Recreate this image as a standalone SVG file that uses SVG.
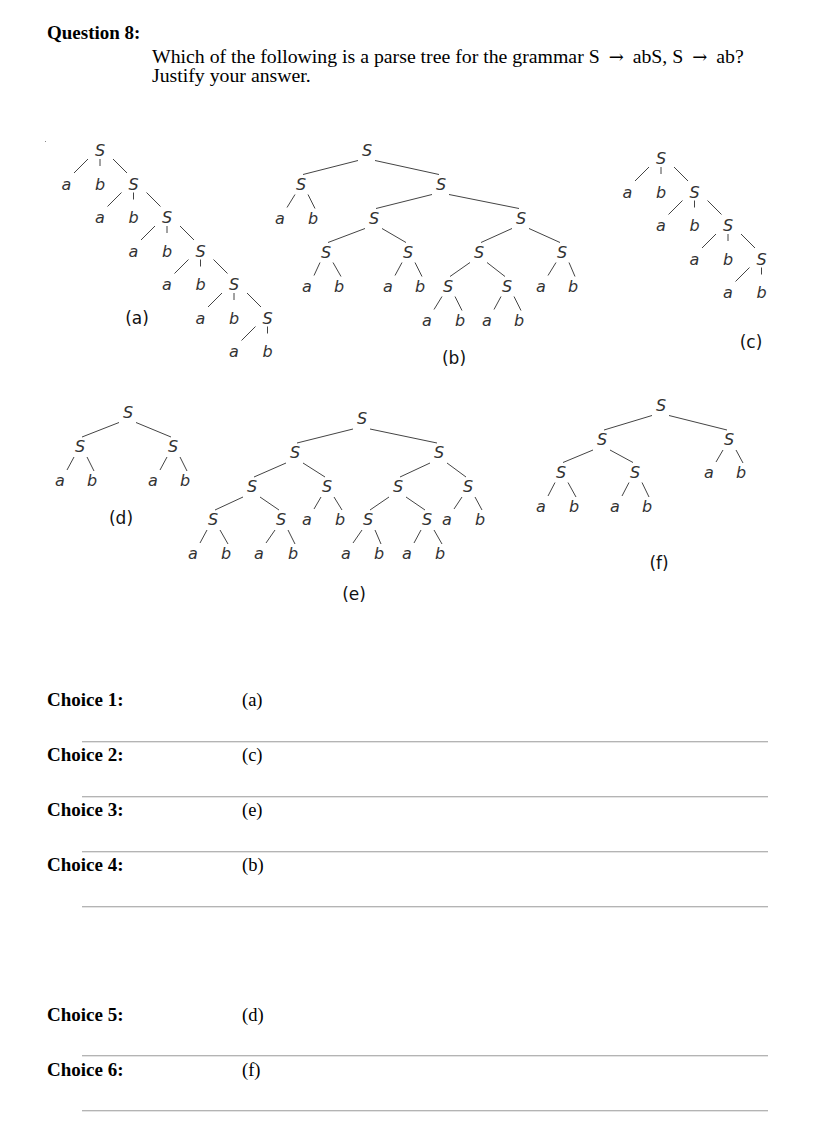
<svg xmlns="http://www.w3.org/2000/svg" width="816" height="1134" viewBox="0 0 816 1134">
<style>
.h{font-family:"Liberation Serif","Times New Roman",serif;font-size:19.8px;fill:#000}
.ar{font-family:"DejaVu Serif","Liberation Serif",serif;font-size:18px}
.hb{font-family:"Liberation Serif","Times New Roman",serif;font-size:19px;font-weight:bold;fill:#000}
.c{font-family:"Liberation Serif","Times New Roman",serif;font-size:18.5px;fill:#000}
.n{font-family:"DejaVu Sans",sans-serif;font-style:italic;font-size:16px;fill:#333;text-anchor:middle}
.lb{font-family:"DejaVu Sans",sans-serif;font-size:17px;fill:#111;text-anchor:middle}
#connectors line{stroke:#444;stroke-width:1}
.hr1{stroke:#b4b4b4;stroke-width:1}
.hr2{stroke:#e4e4e4;stroke-width:1}
</style>
<rect width="816" height="1134" fill="#fff"/>
<text class="hb" x="47" y="39">Question 8:</text>
<text class="h" x="152" y="63">Which of the following is a parse tree for the grammar S <tspan class="ar" dx="4">→</tspan><tspan dx="4"> abS, S </tspan><tspan class="ar" dx="4">→</tspan><tspan dx="4"> ab?</tspan></text>
<text class="h" x="152" y="82">Justify your answer.</text>
<rect x="45" y="141" width="1" height="1" fill="#888"/>

<g id="connectors">
<!-- tree a -->
<line x1="88" y1="159" x2="74" y2="173"/><line x1="100" y1="159" x2="100" y2="166"/><line x1="113" y1="159" x2="127" y2="173"/>
<line x1="121.5" y1="192.5" x2="107.5" y2="206.5"/><line x1="133.5" y1="192.5" x2="133.5" y2="199.5"/><line x1="146.5" y1="192.5" x2="160.5" y2="206.5"/>
<line x1="155" y1="226" x2="141" y2="240"/><line x1="167" y1="226" x2="167" y2="233"/><line x1="180" y1="226" x2="194" y2="240"/>
<line x1="188.5" y1="259.5" x2="174.5" y2="273.5"/><line x1="200.5" y1="259.5" x2="200.5" y2="266.5"/><line x1="213.5" y1="259.5" x2="227.5" y2="273.5"/>
<line x1="222" y1="293" x2="208" y2="307"/><line x1="234" y1="293" x2="234" y2="300"/><line x1="247" y1="293" x2="261" y2="307"/>
<line x1="255.5" y1="326.5" x2="241.5" y2="340.5"/><line x1="267.5" y1="326.5" x2="267.5" y2="333.5"/>
<!-- tree c -->
<line x1="649" y1="167" x2="635" y2="181"/><line x1="661" y1="167" x2="661" y2="174"/><line x1="674" y1="167" x2="688" y2="181"/>
<line x1="682.5" y1="200.5" x2="668.5" y2="214.5"/><line x1="694.5" y1="200.5" x2="694.5" y2="207.5"/><line x1="707.5" y1="200.5" x2="721.5" y2="214.5"/>
<line x1="716" y1="234" x2="702" y2="248"/><line x1="728" y1="234" x2="728" y2="241"/><line x1="741" y1="234" x2="755" y2="248"/>
<line x1="749.5" y1="267.5" x2="735.5" y2="281.5"/><line x1="761.5" y1="267.5" x2="761.5" y2="274.5"/>
<!-- tree b -->
<line x1="358" y1="160.5" x2="303" y2="174.5"/><line x1="375" y1="160.5" x2="439" y2="174.5"/>
<line x1="295" y1="194.5" x2="287" y2="207.5"/><line x1="308" y1="194.5" x2="315" y2="208.5"/>
<line x1="432" y1="194.5" x2="376" y2="208.5"/><line x1="449" y1="194.5" x2="519" y2="208.5"/>
<line x1="365" y1="228.5" x2="328" y2="242.5"/><line x1="382" y1="228.5" x2="406" y2="242.5"/>
<line x1="512" y1="228.5" x2="481" y2="242.5"/><line x1="529" y1="228.5" x2="560" y2="242.5"/>
<line x1="320" y1="262.5" x2="314" y2="275.5"/><line x1="333" y1="262.5" x2="341" y2="276.5"/>
<line x1="402" y1="262.5" x2="395" y2="275.5"/><line x1="415" y1="262.5" x2="422" y2="276.5"/>
<line x1="470" y1="262.5" x2="450" y2="276.5"/><line x1="487" y1="262.5" x2="505" y2="276.5"/>
<line x1="556" y1="262.5" x2="548" y2="275.5"/><line x1="569" y1="262.5" x2="575" y2="276.5"/>
<line x1="442" y1="296.5" x2="434" y2="309.5"/><line x1="455" y1="296.5" x2="462" y2="310.5"/>
<line x1="501" y1="296.5" x2="494" y2="309.5"/><line x1="514" y1="296.5" x2="521" y2="310.5"/>
<!-- tree d -->
<line x1="119" y1="422.5" x2="82" y2="437"/><line x1="136" y1="422.5" x2="171" y2="437"/>
<line x1="74" y1="457" x2="67" y2="470"/><line x1="87" y1="457" x2="94" y2="471"/>
<line x1="167" y1="457" x2="160" y2="470"/><line x1="180" y1="457" x2="187" y2="471"/>
<!-- tree e -->
<line x1="353" y1="429" x2="297" y2="443"/><line x1="370" y1="429" x2="437" y2="443"/>
<line x1="286" y1="463" x2="254" y2="477"/><line x1="303" y1="463" x2="325" y2="477"/>
<line x1="430" y1="463" x2="400" y2="477"/><line x1="447" y1="463" x2="466" y2="477"/>
<line x1="243" y1="497" x2="215" y2="510"/><line x1="260" y1="497" x2="279" y2="510"/>
<line x1="321" y1="497" x2="314" y2="509"/><line x1="334" y1="497" x2="342" y2="510"/>
<line x1="389" y1="497" x2="370" y2="510"/><line x1="406" y1="497" x2="425" y2="510"/>
<line x1="462" y1="497" x2="454" y2="509"/><line x1="475" y1="497" x2="482" y2="510"/>
<line x1="207" y1="530" x2="200" y2="543"/><line x1="220" y1="530" x2="228" y2="544"/>
<line x1="275" y1="530" x2="266" y2="543"/><line x1="288" y1="530" x2="295" y2="544"/>
<line x1="362" y1="530" x2="353" y2="543"/><line x1="375" y1="530" x2="381" y2="544"/>
<line x1="421" y1="530" x2="414" y2="543"/><line x1="434" y1="530" x2="442" y2="544"/>
<!-- tree f -->
<line x1="652" y1="415.5" x2="604" y2="430"/><line x1="669" y1="415.5" x2="727" y2="430"/>
<line x1="593" y1="450" x2="563" y2="462.5"/><line x1="610" y1="450" x2="633" y2="462.5"/>
<line x1="723" y1="450" x2="716" y2="462"/><line x1="736" y1="450" x2="743" y2="463"/>
<line x1="555" y1="482.5" x2="548" y2="496"/><line x1="568" y1="482.5" x2="576" y2="497"/>
<line x1="629" y1="482.5" x2="622" y2="496"/><line x1="642" y1="482.5" x2="649" y2="497"/>
</g>

<g id="tree-a">
<g id="a-S0"><text class="n" x="100" y="156">S</text></g>
<g id="a-a1"><text class="n" x="66.5" y="189.5">a</text></g>
<g id="a-b1"><text class="n" x="100" y="189.5">b</text></g>
<g id="a-S1"><text class="n" x="133.5" y="189.5">S</text></g>
<g id="a-a2"><text class="n" x="100" y="223">a</text></g>
<g id="a-b2"><text class="n" x="133.5" y="223">b</text></g>
<g id="a-S2"><text class="n" x="167" y="223">S</text></g>
<g id="a-a3"><text class="n" x="133.5" y="256.5">a</text></g>
<g id="a-b3"><text class="n" x="167" y="256.5">b</text></g>
<g id="a-S3"><text class="n" x="200.5" y="256.5">S</text></g>
<g id="a-a4"><text class="n" x="167" y="290">a</text></g>
<g id="a-b4"><text class="n" x="200.5" y="290">b</text></g>
<g id="a-S4"><text class="n" x="234" y="290">S</text></g>
<g id="a-a5"><text class="n" x="200.5" y="323.5">a</text></g>
<g id="a-b5"><text class="n" x="234" y="323.5">b</text></g>
<g id="a-S5"><text class="n" x="267.5" y="323.5">S</text></g>
<g id="a-a6"><text class="n" x="234" y="357">a</text></g>
<g id="a-b6"><text class="n" x="267.5" y="357">b</text></g>
<g id="a-label"><text class="lb" x="137" y="324">(a)</text></g>
</g>

<g id="tree-b">
<g id="b-R"><text class="n" x="367" y="155.5">S</text></g>
<g id="b-L1"><text class="n" x="301" y="189.5">S</text></g>
<g id="b-R1"><text class="n" x="441" y="189.5">S</text></g>
<g id="b-L1a"><text class="n" x="280" y="223.5">a</text></g>
<g id="b-L1b"><text class="n" x="313" y="223.5">b</text></g>
<g id="b-A"><text class="n" x="374" y="223.5">S</text></g>
<g id="b-B"><text class="n" x="521" y="223.5">S</text></g>
<g id="b-A1"><text class="n" x="326" y="257.5">S</text></g>
<g id="b-A2"><text class="n" x="408" y="257.5">S</text></g>
<g id="b-B1"><text class="n" x="479" y="257.5">S</text></g>
<g id="b-B2"><text class="n" x="562" y="257.5">S</text></g>
<g id="b-A1a"><text class="n" x="307" y="291.5">a</text></g>
<g id="b-A1b"><text class="n" x="339" y="291.5">b</text></g>
<g id="b-A2a"><text class="n" x="388" y="291.5">a</text></g>
<g id="b-A2b"><text class="n" x="420" y="291.5">b</text></g>
<g id="b-B11"><text class="n" x="448" y="291.5">S</text></g>
<g id="b-B12"><text class="n" x="507" y="291.5">S</text></g>
<g id="b-B2a"><text class="n" x="541" y="291.5">a</text></g>
<g id="b-B2b"><text class="n" x="573" y="291.5">b</text></g>
<g id="b-B11a"><text class="n" x="427" y="325.5">a</text></g>
<g id="b-B11b"><text class="n" x="460" y="325.5">b</text></g>
<g id="b-B12a"><text class="n" x="487" y="325.5">a</text></g>
<g id="b-B12b"><text class="n" x="519" y="325.5">b</text></g>
<g id="b-label"><text class="lb" x="454" y="364">(b)</text></g>
</g>

<g id="tree-c">
<g id="c-S0"><text class="n" x="661" y="164">S</text></g>
<g id="c-a1"><text class="n" x="627.5" y="197.5">a</text></g>
<g id="c-b1"><text class="n" x="661" y="197.5">b</text></g>
<g id="c-S1"><text class="n" x="694.5" y="197.5">S</text></g>
<g id="c-a2"><text class="n" x="661" y="231">a</text></g>
<g id="c-b2"><text class="n" x="694.5" y="231">b</text></g>
<g id="c-S2"><text class="n" x="728" y="231">S</text></g>
<g id="c-a3"><text class="n" x="694.5" y="264.5">a</text></g>
<g id="c-b3"><text class="n" x="728" y="264.5">b</text></g>
<g id="c-S3"><text class="n" x="761.5" y="264.5">S</text></g>
<g id="c-a4"><text class="n" x="728" y="298">a</text></g>
<g id="c-b4"><text class="n" x="761.5" y="298">b</text></g>
<g id="c-label"><text class="lb" x="751" y="348">(c)</text></g>
</g>

<g id="tree-d">
<g id="d-R"><text class="n" x="128" y="417.5">S</text></g>
<g id="d-L"><text class="n" x="80" y="452">S</text></g>
<g id="d-Rr"><text class="n" x="173" y="452">S</text></g>
<g id="d-La"><text class="n" x="60" y="486">a</text></g>
<g id="d-Lb"><text class="n" x="92" y="486">b</text></g>
<g id="d-Ra"><text class="n" x="153" y="486">a</text></g>
<g id="d-Rb"><text class="n" x="185" y="486">b</text></g>
<g id="d-label"><text class="lb" x="121" y="524">(d)</text></g>
</g>

<g id="tree-e">
<g id="e-R"><text class="n" x="362" y="424">S</text></g>
<g id="e-L1"><text class="n" x="295" y="458">S</text></g>
<g id="e-R1"><text class="n" x="439" y="458">S</text></g>
<g id="e-L11"><text class="n" x="252" y="492">S</text></g>
<g id="e-L12"><text class="n" x="327" y="492">S</text></g>
<g id="e-R11"><text class="n" x="398" y="492">S</text></g>
<g id="e-R12"><text class="n" x="468" y="492">S</text></g>
<g id="e-L111"><text class="n" x="213" y="525">S</text></g>
<g id="e-L112"><text class="n" x="281" y="525">S</text></g>
<g id="e-L12a"><text class="n" x="307" y="525">a</text></g>
<g id="e-L12b"><text class="n" x="340" y="525">b</text></g>
<g id="e-R111"><text class="n" x="368" y="525">S</text></g>
<g id="e-R112"><text class="n" x="427" y="525">S</text></g>
<g id="e-R12a"><text class="n" x="447" y="525">a</text></g>
<g id="e-R12b"><text class="n" x="480" y="525">b</text></g>
<g id="e-x1a"><text class="n" x="193" y="559">a</text></g>
<g id="e-x1b"><text class="n" x="226" y="559">b</text></g>
<g id="e-x2a"><text class="n" x="259" y="559">a</text></g>
<g id="e-x2b"><text class="n" x="293" y="559">b</text></g>
<g id="e-x3a"><text class="n" x="346" y="559">a</text></g>
<g id="e-x3b"><text class="n" x="379" y="559">b</text></g>
<g id="e-x4a"><text class="n" x="407" y="559">a</text></g>
<g id="e-x4b"><text class="n" x="440" y="559">b</text></g>
<g id="e-label"><text class="lb" x="354" y="600">(e)</text></g>
</g>

<g id="tree-f">
<g id="f-R"><text class="n" x="661" y="410.5">S</text></g>
<g id="f-L1"><text class="n" x="602" y="445">S</text></g>
<g id="f-R1"><text class="n" x="729" y="445">S</text></g>
<g id="f-L11"><text class="n" x="561" y="477.5">S</text></g>
<g id="f-L12"><text class="n" x="635" y="477.5">S</text></g>
<g id="f-R1a"><text class="n" x="709" y="478">a</text></g>
<g id="f-R1b"><text class="n" x="741" y="478">b</text></g>
<g id="f-L11a"><text class="n" x="541" y="512">a</text></g>
<g id="f-L11b"><text class="n" x="574" y="512">b</text></g>
<g id="f-L12a"><text class="n" x="615" y="512">a</text></g>
<g id="f-L12b"><text class="n" x="647" y="512">b</text></g>
<g id="f-label"><text class="lb" x="659" y="569">(f)</text></g>
</g>

<g id="choices">
<text class="hb" x="47" y="706">Choice 1:</text><text class="c" x="242" y="706">(a)</text>
<line class="hr1" x1="82" y1="741.5" x2="768" y2="741.5"/><line class="hr2" x1="82" y1="742.5" x2="768" y2="742.5"/>
<text class="hb" x="47" y="761">Choice 2:</text><text class="c" x="242" y="761">(c)</text>
<line class="hr1" x1="82" y1="796.5" x2="768" y2="796.5"/><line class="hr2" x1="82" y1="797.5" x2="768" y2="797.5"/>
<text class="hb" x="47" y="816">Choice 3:</text><text class="c" x="242" y="816">(e)</text>
<line class="hr1" x1="82" y1="851.5" x2="768" y2="851.5"/><line class="hr2" x1="82" y1="852.5" x2="768" y2="852.5"/>
<text class="hb" x="47" y="871">Choice 4:</text><text class="c" x="242" y="871">(b)</text>
<line class="hr1" x1="82" y1="906.5" x2="768" y2="906.5"/><line class="hr2" x1="82" y1="907.5" x2="768" y2="907.5"/>
<text class="hb" x="47" y="1021">Choice 5:</text><text class="c" x="242" y="1021">(d)</text>
<line class="hr1" x1="82" y1="1055.5" x2="768" y2="1055.5"/><line class="hr2" x1="82" y1="1056.5" x2="768" y2="1056.5"/>
<text class="hb" x="47" y="1076">Choice 6:</text><text class="c" x="242" y="1076">(f)</text>
<line class="hr1" x1="82" y1="1110.5" x2="768" y2="1110.5"/><line class="hr2" x1="82" y1="1111.5" x2="768" y2="1111.5"/>
</g>
</svg>
